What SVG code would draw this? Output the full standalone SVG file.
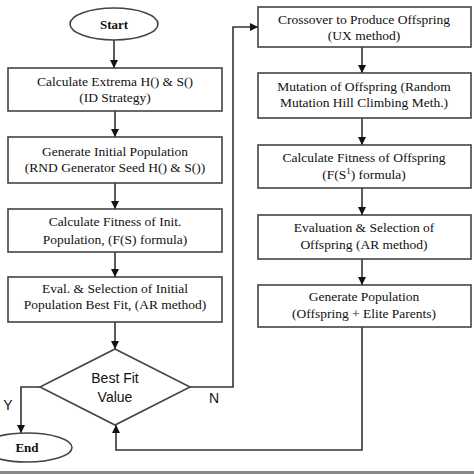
<svg xmlns="http://www.w3.org/2000/svg" width="474" height="474" viewBox="0 0 474 474">
<defs>
<marker id="ah" markerUnits="userSpaceOnUse" markerWidth="8" markerHeight="8" viewBox="0 0 10 10" refX="10" refY="5" orient="auto">
<path d="M0,0 L10,5 L0,10 z" fill="#111"/>
</marker>
<style>
.box{fill:#fff;stroke:#444;stroke-width:1.6}
.t{font-family:"Liberation Serif","Times New Roman",serif;font-size:13.5px;fill:#111;text-anchor:middle}
.b{font-family:"Liberation Serif","Times New Roman",serif;font-size:13px;font-weight:bold;fill:#111;text-anchor:middle}
.s{font-family:"Liberation Sans",Arial,sans-serif;font-size:14px;fill:#111;text-anchor:middle}
.c{fill:none;stroke:#333;stroke-width:1.6}
</style>
</defs>
<rect width="474" height="474" fill="#fff"/>
<g id="connectors">
<line class="c" x1="114" y1="40" x2="114" y2="68" marker-end="url(#ah)"/>
<line class="c" x1="115" y1="111" x2="115" y2="137" marker-end="url(#ah)"/>
<line class="c" x1="115" y1="183" x2="115" y2="209" marker-end="url(#ah)"/>
<line class="c" x1="115" y1="252" x2="115" y2="277" marker-end="url(#ah)"/>
<line class="c" x1="115" y1="322" x2="115" y2="349" marker-end="url(#ah)"/>
<polyline class="c" points="190,387 233,387 233,27 258,27" marker-end="url(#ah)"/>
<polyline class="c" points="40,387 21,387 21,433" marker-end="url(#ah)"/>
<line class="c" x1="362" y1="47" x2="362" y2="73" marker-end="url(#ah)"/>
<line class="c" x1="362" y1="118" x2="362" y2="145" marker-end="url(#ah)"/>
<line class="c" x1="362" y1="188" x2="362" y2="215" marker-end="url(#ah)"/>
<line class="c" x1="362" y1="259" x2="362" y2="285" marker-end="url(#ah)"/>
<polyline class="c" points="362,327 362,450 116,450 116,425" marker-end="url(#ah)"/>
<text class="s" x="8" y="410">Y</text>
<text class="s" x="214" y="403">N</text>
</g>
<g id="start">
<ellipse cx="114" cy="24" rx="44" ry="16" fill="#fff" stroke="#444" stroke-width="1.6"/>
<text class="b" x="114" y="29">Start</text>
</g>
<g id="n1">
<rect class="box" x="8" y="68" width="214" height="43"/>
<text class="t" x="115" y="86">Calculate Extrema H() &amp; S()</text>
<text class="t" x="115" y="102">(ID Strategy)</text>
</g>
<g id="n2">
<rect class="box" x="8" y="137" width="214" height="46"/>
<text class="t" x="115" y="156">Generate Initial Population</text>
<text class="t" x="115" y="172">(RND Generator Seed H() &amp; S())</text>
</g>
<g id="n3">
<rect class="box" x="8" y="209" width="214" height="43"/>
<text class="t" x="115" y="226">Calculate Fitness of Init.</text>
<text class="t" x="115" y="244">Population, (F(S) formula)</text>
</g>
<g id="n4">
<rect class="box" x="8" y="277" width="214" height="45"/>
<text class="t" x="115" y="293">Eval. &amp; Selection of Initial</text>
<text class="t" x="115" y="309">Population Best Fit, (AR method)</text>
</g>
<g id="decision">
<polygon points="115,349 190,387 115,425 40,387" fill="#fff" stroke="#444" stroke-width="1.6"/>
<text class="s" x="115" y="383">Best Fit</text>
<text class="s" x="115" y="402">Value</text>
</g>
<g id="end">
<ellipse cx="27" cy="447.5" rx="45" ry="14.5" fill="#fff" stroke="#444" stroke-width="1.6"/>
<text class="b" x="27" y="452">End</text>
</g>
<g id="r1">
<rect class="box" x="258" y="7" width="213" height="40"/>
<text class="t" x="364" y="24">Crossover to Produce Offspring</text>
<text class="t" x="364" y="40">(UX method)</text>
</g>
<g id="r2">
<rect class="box" x="258" y="73" width="213" height="45"/>
<text class="t" x="364" y="91">Mutation of Offspring (Random</text>
<text class="t" x="364" y="107">Mutation Hill Climbing Meth.)</text>
</g>
<g id="r3">
<rect class="box" x="258" y="145" width="213" height="43"/>
<text class="t" x="364" y="162">Calculate Fitness of Offspring</text>
<text class="t" x="364" y="179">(F(S<tspan dy="-5" font-size="9">1</tspan><tspan dy="5">) formula)</tspan></text>
</g>
<g id="r4">
<rect class="box" x="258" y="215" width="213" height="44"/>
<text class="t" x="364" y="232">Evaluation &amp; Selection of</text>
<text class="t" x="364" y="249">Offspring (AR method)</text>
</g>
<g id="r5">
<rect class="box" x="258" y="285" width="213" height="42"/>
<text class="t" x="364" y="301">Generate Population</text>
<text class="t" x="364" y="318">(Offspring + Elite Parents)</text>
</g>
<rect x="0" y="471" width="474" height="3" fill="#888"/>
</svg>
